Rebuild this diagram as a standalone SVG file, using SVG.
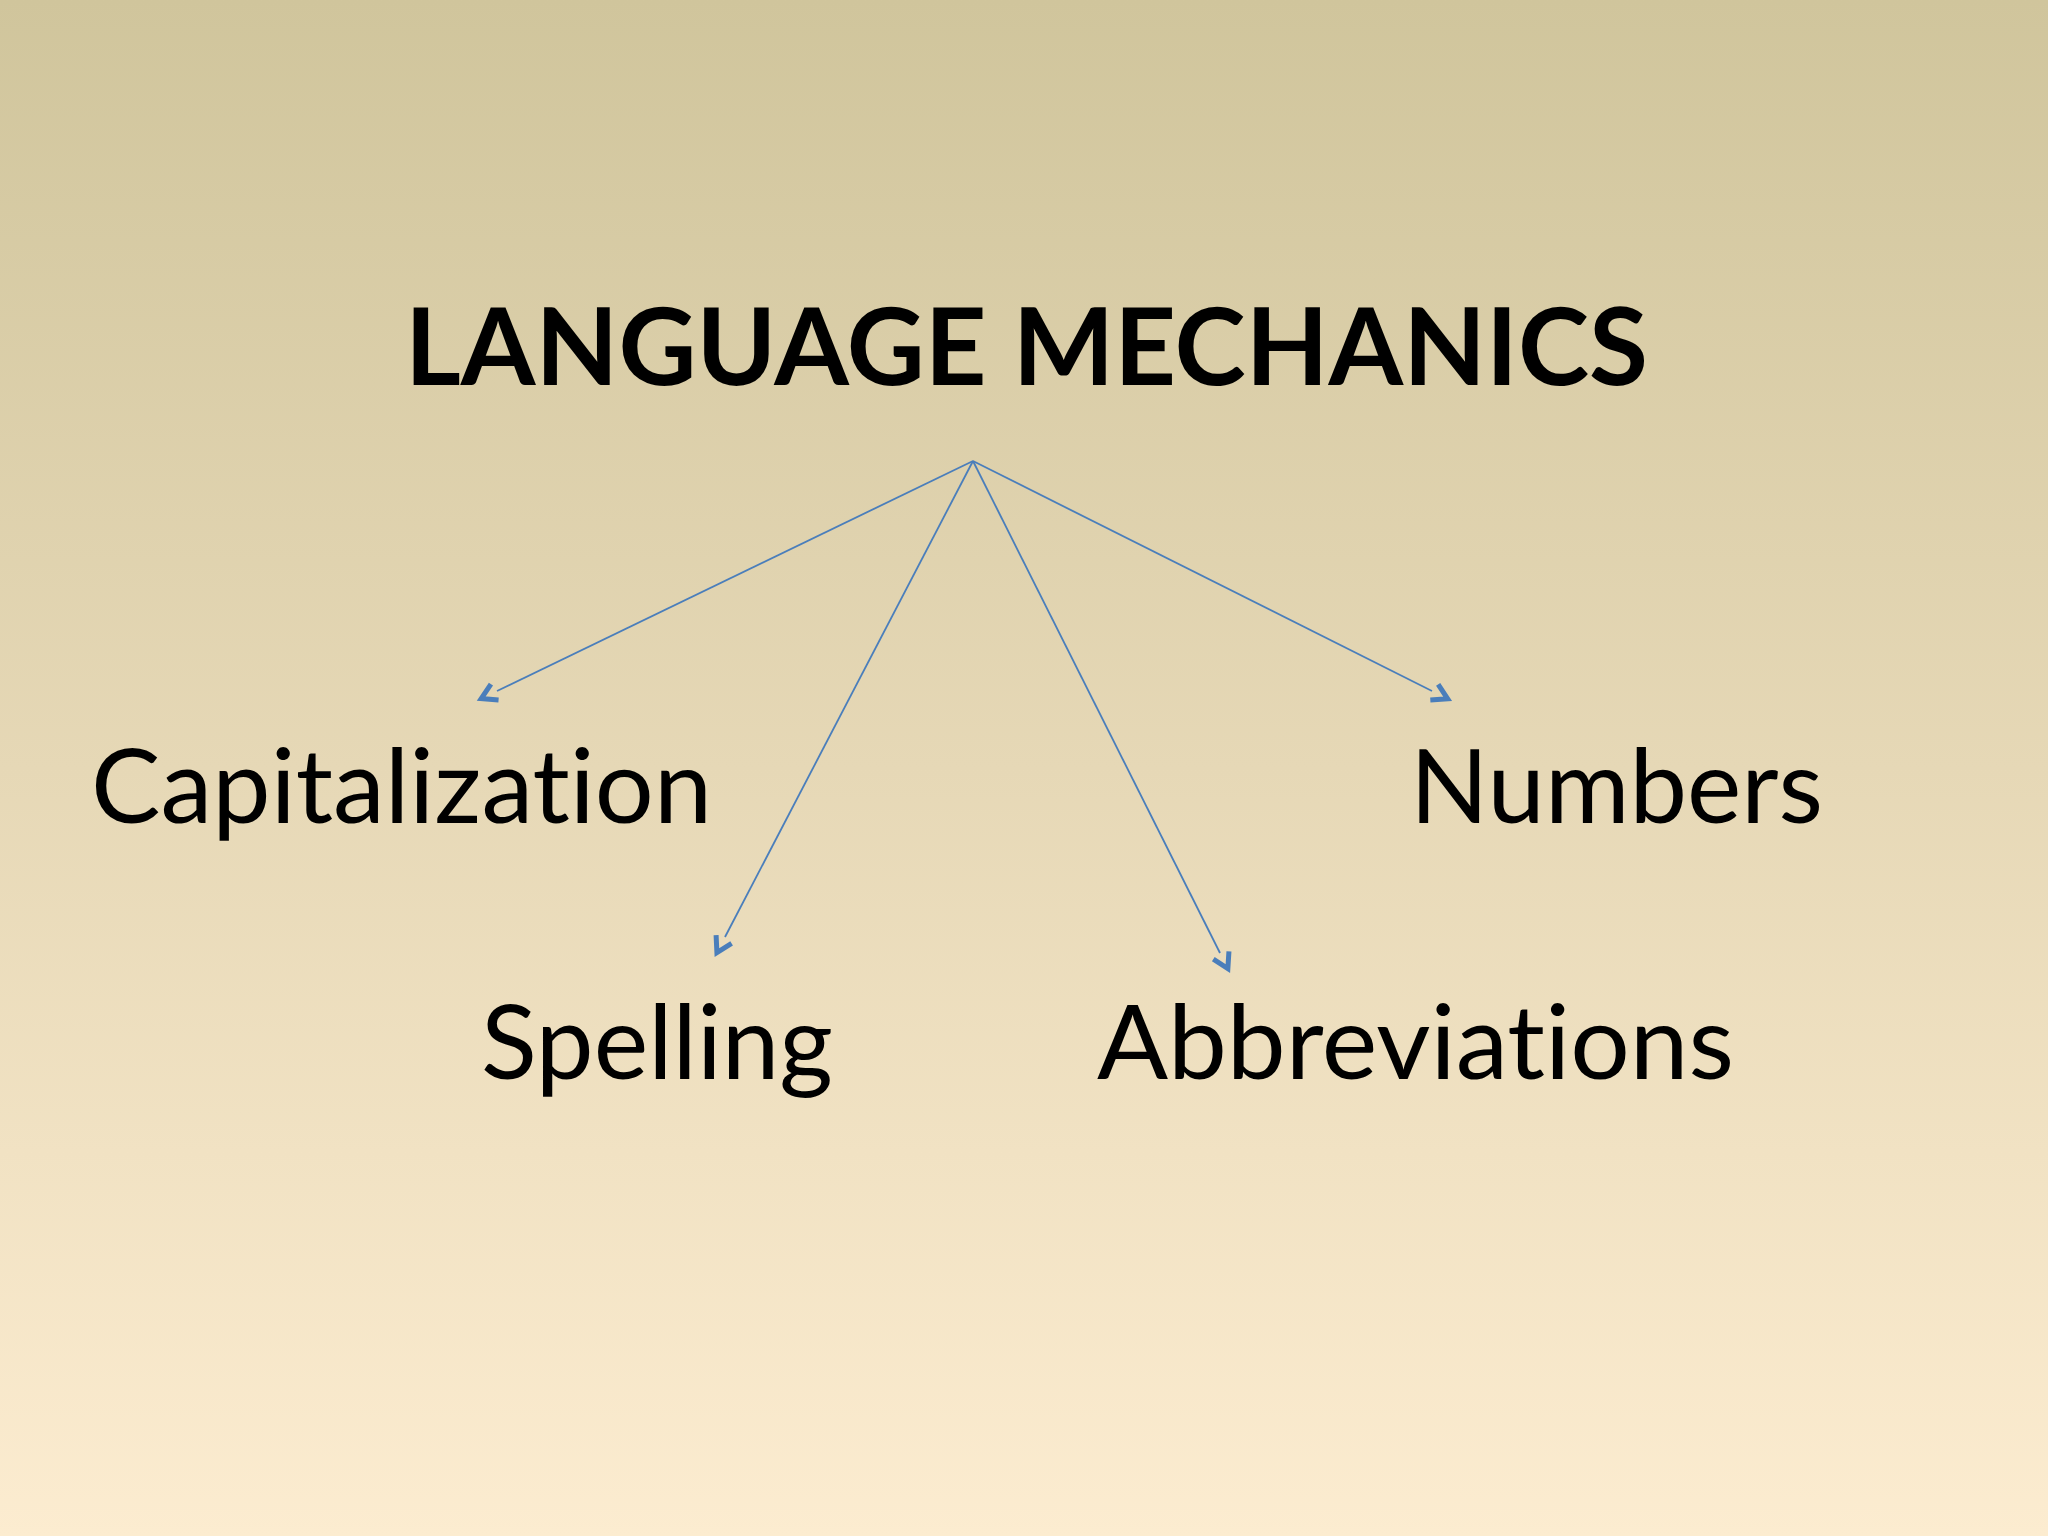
<svg xmlns="http://www.w3.org/2000/svg" width="2048" height="1536" viewBox="0 0 2048 1536">
  <defs>
    <linearGradient id="bg" x1="0" y1="0" x2="0" y2="1">
      <stop offset="0" stop-color="#d0c59c"/>
      <stop offset="0.5" stop-color="#e6d8b6"/>
      <stop offset="1" stop-color="#fcecd0"/>
    </linearGradient>
    <marker id="open" markerUnits="userSpaceOnUse" markerWidth="30" markerHeight="30" viewBox="-4 -12 24 24" refX="-2" refY="0" orient="auto" overflow="visible">
      <path d="M0,-7 L12,0 L0,7" fill="none" stroke="#4a7ebb" stroke-width="4"/>
    </marker>
    <style>
      text { font-variant-ligatures: none; font-feature-settings: "liga" 0, "clig" 0; }
      .title { font-family: Lato, "Open Sans", "Liberation Sans", sans-serif; font-weight: 700; font-size: 107px; fill: #000; }
      .label { font-family: Lato, "Open Sans", "Liberation Sans", sans-serif; font-weight: 400; font-size: 102px; fill: #000; }
      .conn { stroke: #4a7ebb; stroke-width: 1.8; fill: none; marker-end: url(#open); }
    </style>
  </defs>
  <rect x="0" y="0" width="2048" height="1536" fill="url(#bg)"/>
  <g id="title">
    <text class="title" x="405" y="385" textLength="1243" lengthAdjust="spacingAndGlyphs">LANGUAGE MECHANICS</text>
  </g>
  <g id="connectors">
    <line class="conn" x1="973" y1="461" x2="497" y2="691"/>
    <line class="conn" x1="973" y1="461" x2="725" y2="937"/>
    <line class="conn" x1="973" y1="461" x2="1220" y2="953"/>
    <line class="conn" x1="973" y1="461" x2="1432" y2="691"/>
  </g>
  <g id="capitalization">
    <text class="label" x="91" y="823" textLength="621" lengthAdjust="spacingAndGlyphs">Capitalization</text>
  </g>
  <g id="numbers">
    <text class="label" x="1410" y="823" textLength="413" lengthAdjust="spacingAndGlyphs">Numbers</text>
  </g>
  <g id="spelling">
    <text class="label" x="481" y="1079" textLength="352" lengthAdjust="spacingAndGlyphs">Spelling</text>
  </g>
  <g id="abbreviations">
    <text class="label" x="1097" y="1079" textLength="637" lengthAdjust="spacingAndGlyphs">Abbreviations</text>
  </g>
</svg>
